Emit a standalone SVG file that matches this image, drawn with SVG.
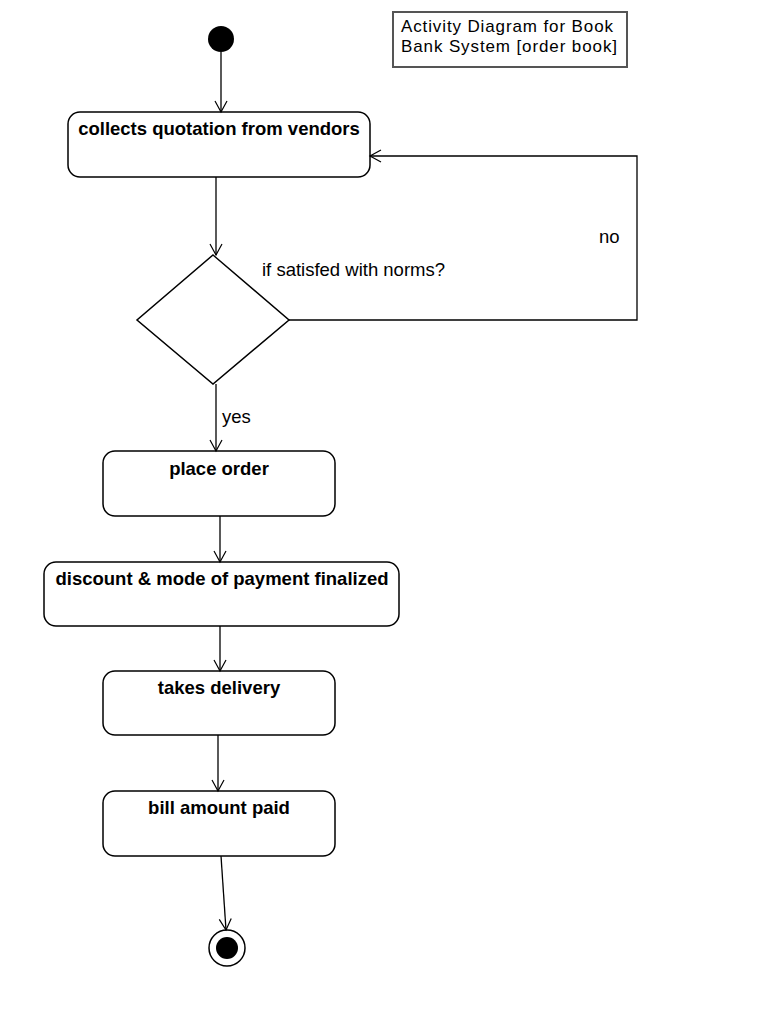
<svg xmlns="http://www.w3.org/2000/svg" width="768" height="1024" viewBox="0 0 768 1024">
<defs>
<marker id="arr" markerWidth="14" markerHeight="14" refX="12" refY="7" orient="auto" markerUnits="userSpaceOnUse"><path d="M1,1 L12,7 L1,13" fill="none" stroke="#000" stroke-width="1.2"/></marker>
<style>
.act{fill:#fff;stroke:#000;stroke-width:1.5}
.lbl{font-family:"Liberation Sans",Arial,sans-serif;font-size:18.5px;font-weight:bold;text-anchor:middle}
.t{font-family:"Liberation Sans",Arial,sans-serif;font-size:18.5px}
.tt{font-family:"Liberation Sans",Arial,sans-serif;font-size:17px}
.c{fill:none;stroke:#000;stroke-width:1.3;marker-end:url(#arr)}
</style>
</defs>
<rect width="768" height="1024" fill="#fff"/>
<g id="title"><rect x="393" y="12" width="234" height="55" fill="#fff" stroke="#555" stroke-width="2"/><text class="tt" x="401" y="32" textLength="212">Activity Diagram for Book</text><text class="tt" x="401" y="52" textLength="216">Bank System [order book]</text></g>
<g id="start"><circle cx="221" cy="39" r="13" fill="#000"/></g>
<g id="n1"><rect class="act" x="68" y="112" width="302" height="65" rx="12"/><text class="lbl" x="219" y="135">collects quotation from vendors</text></g>
<g id="d1"><polygon points="213,255 289,320 213,384 137,320" fill="#fff" stroke="#000" stroke-width="1.5"/></g>
<g id="n2"><rect class="act" x="103" y="451" width="232" height="65" rx="12"/><text class="lbl" x="219" y="475">place order</text></g>
<g id="n3"><rect class="act" x="44" y="562" width="355" height="64" rx="12"/><text class="lbl" x="222" y="585">discount &amp; mode of payment finalized</text></g>
<g id="n4"><rect class="act" x="103" y="671" width="232" height="64" rx="12"/><text class="lbl" x="219" y="694">takes delivery</text></g>
<g id="n5"><rect class="act" x="103" y="791" width="232" height="65" rx="12"/><text class="lbl" x="219" y="814">bill amount paid</text></g>
<g id="end"><circle cx="227" cy="948" r="18" fill="#fff" stroke="#000" stroke-width="1.5"/><circle cx="227" cy="948" r="11" fill="#000"/></g>
<g id="connectors">
<path class="c" d="M221,52 L221,112"/>
<path class="c" d="M216,177 L216,255"/>
<path class="c" d="M289,320 L637,320 L637,156 L370,156"/>
<path class="c" d="M216,384 L216,451"/>
<path class="c" d="M220,516 L220,562"/>
<path class="c" d="M220,626 L220,671"/>
<path class="c" d="M218,735 L218,791"/>
<path class="c" d="M221,856 L226,930"/>
<text class="t" x="599" y="243">no</text>
<text class="t" x="262" y="276">if satisfed with norms?</text>
<text class="t" x="222" y="423">yes</text>
</g>
</svg>
